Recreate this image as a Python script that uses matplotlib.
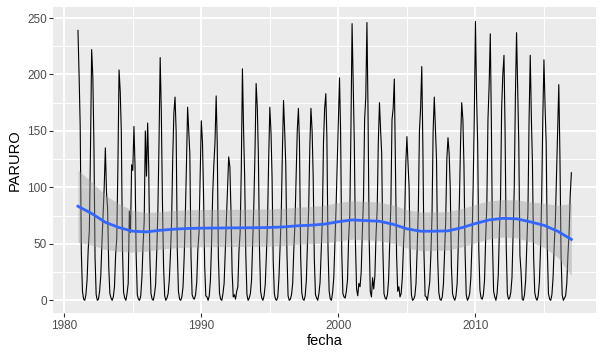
import matplotlib
matplotlib.use('Agg')
import matplotlib.pyplot as plt
import matplotlib.dates as mdates
import numpy as np
import pandas as pd

# Monthly rainfall at Paruro, Jan 1981 - Jan 2017
paruro = [
    239, 198, 155, 42, 8, 1, 0, 5, 18, 45, 62, 135,     # 1981
    222, 198, 141, 38, 5, 0, 1, 8, 22, 50, 75, 100,     # 1982
    135, 95, 82, 30, 6, 2, 0, 3, 12, 40, 55, 118,       # 1983
    204, 185, 150, 45, 7, 2, 0, 6, 15, 79, 60, 120,     # 1984
    115, 154, 120, 40, 5, 1, 0, 4, 20, 48, 70, 150,     # 1985
    110, 157, 118, 38, 6, 1, 0, 5, 14, 42, 80, 140,     # 1986
    215, 165, 90, 30, 4, 0, 2, 6, 18, 40, 70, 125,      # 1987
    166, 180, 150, 45, 8, 1, 0, 3, 12, 38, 75, 120,     # 1988
    171, 150, 130, 40, 5, 2, 1, 5, 16, 45, 60, 110,     # 1989
    159, 140, 95, 30, 4, 3, 0, 4, 18, 50, 95, 120,      # 1990
    140, 181, 140, 38, 6, 1, 0, 6, 15, 42, 72, 100,     # 1991
    127, 118, 80, 25, 3, 5, 1, 8, 12, 44, 60, 115,      # 1992
    205, 150, 110, 40, 5, 0, 2, 6, 18, 50, 85, 130,     # 1993
    192, 171, 130, 45, 8, 2, 0, 4, 14, 40, 70, 125,     # 1994
    171, 149, 110, 35, 6, 1, 0, 3, 20, 48, 75, 130,     # 1995
    177, 150, 120, 42, 4, 0, 1, 5, 15, 45, 68, 110,     # 1996
    150, 170, 140, 40, 7, 1, 0, 4, 18, 52, 80, 135,     # 1997
    170, 150, 110, 36, 5, 2, 0, 6, 16, 44, 72, 140,     # 1998
    170, 183, 145, 45, 8, 1, 0, 7, 20, 50, 82, 120,     # 1999
    160, 197, 150, 42, 6, 3, 2, 8, 18, 55, 75, 150,     # 2000
    245, 190, 140, 50, 10, 4, 15, 12, 25, 60, 90, 160,  # 2001
    180, 246, 170, 55, 8, 3, 20, 10, 22, 58, 80, 140,   # 2002
    175, 150, 130, 45, 6, 2, 1, 5, 18, 50, 85, 160,     # 2003
    170, 196, 120, 40, 8, 12, 3, 6, 20, 48, 70, 120,    # 2004
    145, 120, 100, 35, 5, 0, 1, 4, 15, 45, 80, 150,     # 2005
    170, 207, 140, 42, 4, 3, 0, 8, 16, 40, 75, 150,     # 2006
    180, 150, 125, 38, 7, 1, 0, 3, 14, 42, 70, 125,     # 2007
    144, 130, 100, 30, 6, 2, 0, 4, 15, 48, 90, 140,     # 2008
    175, 160, 120, 42, 5, 0, 2, 6, 20, 50, 100, 160,    # 2009
    247, 180, 140, 45, 9, 2, 1, 5, 18, 55, 85, 160,     # 2010
    190, 236, 160, 50, 8, 3, 0, 6, 22, 60, 90, 170,     # 2011
    200, 217, 150, 48, 6, 1, 2, 7, 20, 58, 100, 180,    # 2012
    237, 185, 140, 40, 25, 1, 0, 5, 18, 50, 80, 160,    # 2013
    217, 160, 120, 38, 7, 2, 0, 4, 16, 45, 90, 160,     # 2014
    213, 170, 140, 45, 6, 1, 0, 5, 20, 48, 70, 110,     # 2015
    150, 191, 130, 40, 5, 0, 2, 4, 15, 40, 60, 93,      # 2016
    113,                                                # 2017
]

# Smoothed trend (geom_smooth), one point per January
smooth_years = list(range(1981, 2018))
smooth_fit = [83.3, 76.9, 69.1, 64.4, 61.2, 60.6, 62.0, 63.0, 63.6, 63.9,
              64.0, 64.1, 64.2, 64.3, 64.5, 65.0, 66.0, 66.5, 67.5, 69.6,
              71.2, 70.6, 70.0, 67.3, 63.3, 61.2, 61.2, 61.5, 64.3, 68.0,
              71.2, 72.6, 72.2, 69.5, 66.4, 61.2, 53.9]
smooth_half = [32, 28, 24, 21, 18.5, 17, 16.5, 16.5, 16.5, 16.5,
               16.5, 16.5, 16.5, 16.5, 16.5, 16.5, 16.5, 16.5, 16.7, 17,
               17, 17, 17, 17, 17, 17, 17, 17, 17, 17,
               16.8, 16.5, 16.8, 17.6, 19.5, 23, 32]

plt.rcParams['font.family'] = ['Liberation Sans', 'DejaVu Sans']

dates = pd.date_range('1981-01-01', periods=len(paruro), freq='MS')
s_dates = pd.to_datetime([f'{y}-01-01' for y in smooth_years])
fit = np.array(smooth_fit)
half = np.array(smooth_half)

fig = plt.figure(figsize=(6.04, 3.59), dpi=100)
ax = fig.add_axes([0.0882, 0.1273, 0.9868 - 0.0882, 0.9813 - 0.1273])
ax.set_facecolor('#EBEBEB')

# Monthly series
ax.plot(dates, paruro, color='black', linewidth=0.8, zorder=2)

# Confidence band and smooth line
ax.fill_between(s_dates, fit - half, fit + half, color='#999999', alpha=0.4,
                linewidth=0, zorder=3)
ax.plot(s_dates, fit, color='#3366FF', linewidth=2.0, zorder=4)

# Axis limits (ggplot style expansion)
ax.set_xlim(pd.Timestamp('1979-03-15'), pd.Timestamp('2018-10-20'))
ax.set_ylim(-11.5, 260)

ax.xaxis.set_major_locator(mdates.YearLocator(10))
ax.xaxis.set_major_formatter(mdates.DateFormatter('%Y'))
ax.xaxis.set_minor_locator(mdates.YearLocator(5))
ax.set_yticks([0, 50, 100, 150, 200, 250])
ax.set_yticks([25, 75, 125, 175, 225], minor=True)

# Grid: white major and thinner minor lines
ax.set_axisbelow(True)
ax.grid(which='major', color='white', linewidth=1.4)
ax.grid(which='minor', color='white', linewidth=0.7)

for side in ax.spines.values():
    side.set_visible(False)

ax.tick_params(which='major', length=2.6, width=0.8, color='#333333',
               labelcolor='#4D4D4D', labelsize=8.5, pad=2)
ax.tick_params(which='minor', length=0)

ax.set_xlabel('fecha', fontsize=10.5, labelpad=2)
ax.set_ylabel('PARURO', fontsize=10.5, labelpad=4)

plt.savefig('out.png', dpi=100)
